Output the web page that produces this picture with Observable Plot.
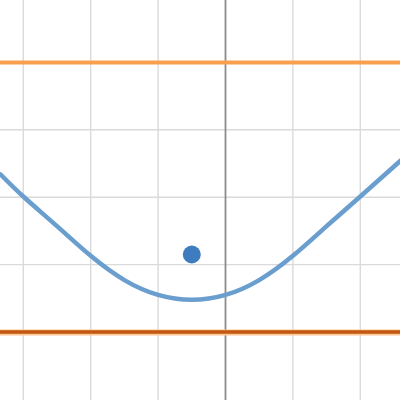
<!DOCTYPE html>
<html>
<head>
<meta charset="utf-8">
<script src="https://cdn.jsdelivr.net/npm/d3@7"></script>
<script src="https://cdn.jsdelivr.net/npm/@observablehq/plot@0.6"></script>
<style>
  html, body { margin: 0; padding: 0; background: #fff; }
  #chart svg { display: block; }
</style>
</head>
<body>
<div id="chart"></div>
<script>
// Curve samples
const curveX = [-3.34, -3, -2.5, -2, -1.5, -1, -0.5, 0, 0.5, 1, 1.5, 2, 2.6];
const curveY = [3.34, 3.01, 2.57, 2.13, 1.77, 1.55, 1.478, 1.55, 1.77, 2.13, 2.57, 3.01, 3.545];
// Single point
const pointX = [-0.5];
const pointY = [2.15];
// Horizontal lines
const upperLineY = [5];
const lowerLineY = [1];
// Grid ticks
const gridX = [-3, -2, -1, 1, 2];
const gridY = [1, 2, 3, 4, 5];
const axisX = [0];

const curve = curveX.map((x, i) => ({x, y: curveY[i]}));
const points = pointX.map((x, i) => ({x, y: pointY[i]}));

const unit = 67.4;
const chart = Plot.plot({
  width: 400,
  height: 400,
  margin: 0,
  x: {domain: [-225 / unit, 175 / unit], axis: null},
  y: {domain: [1 - 68.5 / unit, 1 + 331.5 / unit], axis: null},
  style: {background: "#fff"},
  marks: [
    Plot.ruleX(gridX, {stroke: "#dadada", strokeWidth: 1.4}),
    Plot.ruleY(gridY, {stroke: "#dadada", strokeWidth: 1.4}),
    Plot.ruleX(axisX, {stroke: "#8c8c8c", strokeWidth: 1.8}),
    Plot.ruleY(upperLineY, {stroke: "#f9a04e", strokeWidth: 4}),
    Plot.ruleY(lowerLineY, {stroke: "#fcc594", strokeWidth: 6, dy: 0.5}),
    Plot.ruleY(lowerLineY, {stroke: "#c3570f", strokeWidth: 3.5}),
    Plot.line(curve, {x: "x", y: "y", curve: "natural", stroke: "#6a9ecf", strokeWidth: 4.5}),
    Plot.dot(points, {x: "x", y: "y", r: 9, fill: "#3f7cbf", stroke: "none"})
  ]
});
document.getElementById("chart").appendChild(chart);
</script>
</body>
</html>
